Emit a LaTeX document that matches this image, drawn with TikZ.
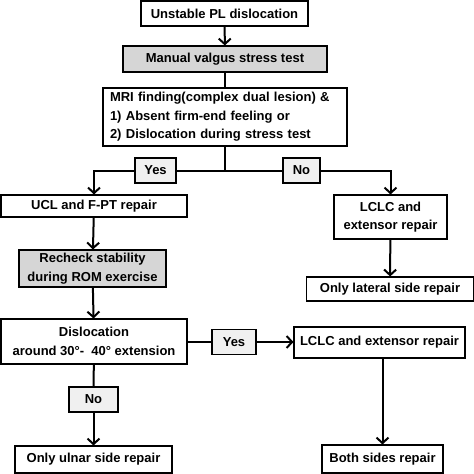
\documentclass[tikz,border=0pt]{standalone}
\usepackage{fontspec}
\setmainfont{Liberation Sans}
\usetikzlibrary{arrows.meta}
\definecolor{boxgray}{HTML}{D6D6D6}
\definecolor{labgray}{HTML}{F0F0F0}

\begin{document}
\begin{tikzpicture}[x=1pt,y=-1pt,
    font=\fontsize{13}{18.5}\selectfont\bfseries,
    flowbox/.style={draw,line width=1.1pt,inner sep=0pt,align=center},
    answer/.style={flowbox,fill=labgray},
    flow/.style={line width=2pt},
    arr/.style={flow,-{Straight Barb[length=5.5pt,width=12pt]}}]

      \useasboundingbox (0,0) rectangle (474,474);

      \begin{scope}[every node/.style={flowbox}]
        \node (start)   at (224.5,13.5) [minimum width=167pt,minimum height=25pt] {Unstable PL dislocation};
        \node (valgus)  at (225,59)     [minimum width=204pt,minimum height=26pt,fill=boxgray] {Manual valgus stress test};
        \node (mri)     at (225,117)    [minimum height=58pt,text width=230pt,inner xsep=7pt,align=left]
              {MRI finding(complex dual lesion) \&\\1) Absent firm-end feeling or\\2) Dislocation during stress test};
        \node (ucl)     at (94,206)     [minimum width=186pt,minimum height=22pt] {UCL and F-PT repair};
        \node (lclcA)   at (390.5,217)  [minimum width=113pt,minimum height=44pt] {LCLC and\\extensor repair};
        \node (lateral) at (390,289)    [minimum width=167pt,minimum height=24pt] {Only lateral side repair};
        \node (recheck) at (92.5,268.5) [minimum width=147pt,minimum height=37pt,fill=boxgray] {Recheck stability\\during ROM exercise};
        \node (disl)    at (94,341.5)   [minimum width=186pt,minimum height=45pt] {Dislocation\\around 30°-\ \ 40° extension};
        \node (lclcB)   at (379.5,342.5) [minimum width=171pt,minimum height=31pt] {LCLC and extensor repair};
        \node (both)    at (382.5,459)  [minimum width=121pt,minimum height=28pt] {Both sides repair};
        \node (ulnar)   at (93.5,459.5) [minimum width=157pt,minimum height=27pt] {Only ulnar side repair};
      \end{scope}

      \begin{scope}[every node/.style={answer,minimum height=25pt}]
        \node (yesA) at (155.5,170.5) [minimum width=41pt] {Yes};
        \node (noA)  at (301.5,170.5) [minimum width=37pt] {No};
        \node (yesB) at (234,342)     [minimum width=44pt] {Yes};
        \node (noB)  at (93.5,399.5)  [minimum width=49pt] {No};
      \end{scope}

      \coordinate (split) at (225,170.5);

      \draw[arr]  (start) -- (valgus);
      \draw[flow] (valgus) -- (mri);
      \draw[flow] (mri) -- (split);
      \draw[flow] (split) -- (yesA);
      \draw[flow] (split) -- (noA);
      \draw[arr]  (yesA) -| (ucl);
      \draw[arr]  (noA) -| (lclcA);
      \draw[arr]  (lclcA) -- (lateral);
      \draw[arr]  (ucl) -- (recheck);
      \draw[arr]  (recheck) -- (disl);
      \draw[flow] (disl.east |- yesB) -- (yesB);
      \draw[arr]  (yesB) -- (lclcB.west |- yesB);
      \draw[arr]  (lclcB.south -| both.north) -- (both);
      \draw[flow] (disl) -- (noB);
      \draw[arr]  (noB) -- (ulnar);

    \end{tikzpicture}
\end{document}
